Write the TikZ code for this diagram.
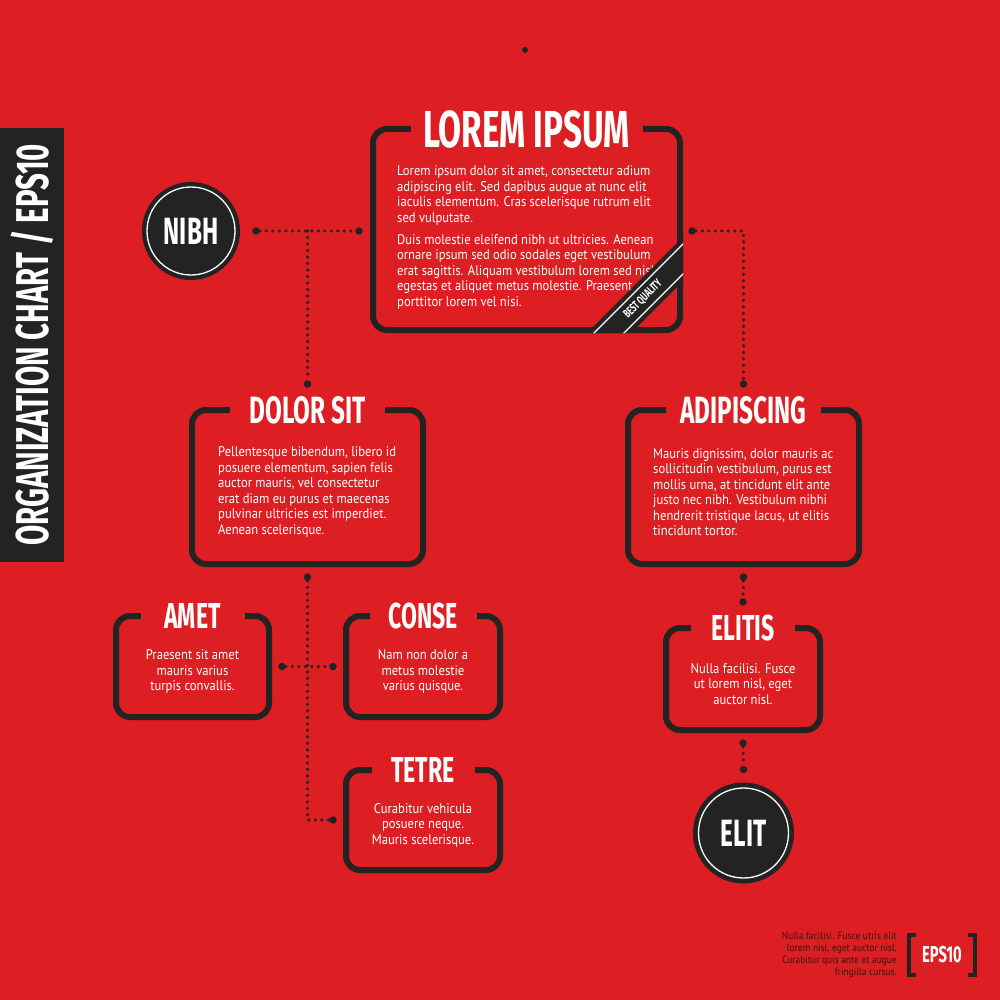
\documentclass[tikz,border=0pt]{standalone}
\usepackage{fontspec}
\setmainfont[FakeStretch=0.9]{PT Sans}
\newfontfamily\headfont[FakeStretch=0.64]{Fira Sans}
\usetikzlibrary{positioning, calc}

\definecolor{chartred}{RGB}{221,30,34}
\definecolor{chartdark}{RGB}{35,35,35}
\definecolor{notetext}{RGB}{70,14,14}

\tikzset{
  box/.style={draw=chartdark, line width=6pt, rounded corners=14pt, inner sep=0pt, outer sep=0pt},
  boxtitle/.style={fill=chartred, text=white, inner sep=0pt, minimum height=16pt,
    font=\headfont\bfseries\fontsize{36}{36}\selectfont},
  boxtext/.style={text=white, inner sep=0pt, font=\fontsize{14}{15.5}\selectfont},
  badge/.style={circle, fill=chartdark, minimum size=98pt, inner sep=0pt, outer sep=0pt, text=white,
    font=\headfont\bfseries\fontsize{38}{38}\selectfont},
  ring/.style={draw=white, line width=1.3pt},
  enddot/.style={circle, fill=chartdark, minimum size=7.5pt, inner sep=0pt},
  link/.style={draw=chartdark, line width=3.5pt, line cap=round, dash pattern=on 0pt off 6.5pt},
  bracket/.style={draw=chartdark, line width=3.5pt}
}

\begin{document}
\begin{tikzpicture}[x=1pt, y=-1pt]
\useasboundingbox (0,0) rectangle (1000,1000);
\fill[chartred] (0,0) rectangle (1000,1000);

% side label
\node[fill=chartdark, text=white, minimum width=434pt, minimum height=64pt, inner sep=0pt, rotate=90,
  font=\headfont\bfseries\fontsize{46}{46}\selectfont] (side) at (32,345) {ORGANIZATION CHART / EPS10};

% top box
\node[enddot, minimum size=6pt] (topdot) at (525,50) {};
\node[box, minimum width=307pt, minimum height=201pt] (main) at (526.5,229.5) {};
\node[boxtext, anchor=west, align=left] (maintext) at ($(main.west)+(24,8)$)
  {Lorem ipsum dolor sit amet, consectetur adium\\
   adipiscing elit. Sed dapibus augue at nunc elit\\
   iaculis elementum. Cras scelerisque rutrum elit\\
   sed vulputate.\\[6.5pt]
   Duis molestie eleifend nibh ut ultricies. Aenean\\
   ornare ipsum sed odio sodales eget vestibulum\\
   erat sagittis. Aliquam vestibulum lorem sed nisl\\
   egestas et aliquet metus molestie. Praesent\\
   porttitor lorem vel nisi.};
\begin{scope}
  \clip[rounded corners=17pt] ($(main.south west)+(-3,3)$) rectangle ($(main.north east)+(3,-3)$);
  \fill[chartdark] (702,218) -- (572,348) -- (614,350) -- (702,262) -- cycle;
  \draw[white, line width=1.2pt] (702,225) -- (572,355);
  \draw[white, line width=1.2pt] (702,255) -- (600,357);
\end{scope}
\node[text=white, rotate=45, inner sep=0pt, font=\headfont\bfseries\fontsize{12}{12}\selectfont] (best) at (643,299) {BEST QUALITY};
\node[boxtitle, minimum width=232pt, font=\headfont\bfseries\fontsize{52}{52}\selectfont] (maintitle) at (main.north) {LOREM IPSUM};

% nibh
\node[badge] (nibh) at (191,231) {NIBH};
\draw[ring] (nibh.center) circle (44pt);

% second level
\node[box, minimum width=231pt, minimum height=154pt] (dolor) at (307.5,487) {};
\node[boxtitle, minimum width=155pt, font=\headfont\bfseries\fontsize{38}{38}\selectfont] at (dolor.north) {DOLOR SIT};
\node[boxtext, anchor=west, align=left] at ($(dolor.west)+(26,5)$)
  {Pellentesque bibendum, libero id\\
   posuere elementum, sapien felis\\
   auctor mauris, vel consectetur\\
   erat diam eu purus et maecenas\\
   pulvinar ultricies est imperdiet.\\
   Aenean scelerisque.};

\node[box, minimum width=231pt, minimum height=154pt] (adip) at (743.5,487) {};
\node[boxtitle, minimum width=155pt, font=\headfont\bfseries\fontsize{38}{38}\selectfont] at (adip.north) {ADIPISCING};
\node[boxtext, anchor=west, align=left] at ($(adip.west)+(25,5)$)
  {Mauris dignissim, dolor mauris ac\\
   sollicitudin vestibulum, purus est\\
   mollis urna, at tincidunt elit ante\\
   justo nec nibh. Vestibulum nibhi\\
   hendrerit tristique lacus, ut elitis\\
   tincidunt tortor.};

% third level
\node[box, minimum width=153pt, minimum height=101pt] (amet) at (192.5,666.5) {};
\node[boxtitle, minimum width=104pt] at (amet.north) {AMET};
\node[boxtext, align=center] at ($(amet.center)+(0,5)$)
  {Praesent sit amet\\ mauris varius\\ turpis convallis.};

\node[box, minimum width=154pt, minimum height=101pt] (conse) at (423,666.5) {};
\node[boxtitle, minimum width=107pt] at (conse.north) {CONSE};
\node[boxtext, align=center] at ($(conse.center)+(0,5)$)
  {Nam non dolor a\\ metus molestie\\ varius quisque.};

\node[box, minimum width=154pt, minimum height=100pt] (tetre) at (423,820) {};
\node[boxtitle, minimum width=103pt] at (tetre.north) {TETRE};
\node[boxtext, align=center] at ($(tetre.center)+(0,5)$)
  {Curabitur vehicula\\ posuere neque.\\ Mauris scelerisque.};

\node[box, minimum width=154pt, minimum height=102pt] (elitis) at (743,679) {};
\node[boxtitle, minimum width=104pt] at (elitis.north) {ELITIS};
\node[boxtext, align=center] at ($(elitis.center)+(0,5)$)
  {Nulla facilisi. Fusce\\ ut lorem nisl, eget\\ auctor nisl.};

\node[badge, minimum size=101pt] (elit) at (743.5,833) {ELIT};
\draw[ring] (elit.center) circle (45pt);

% connectors
\node[enddot] (nibhr) at ($(nibh.east)+(16,0)$) {};
\node[enddot] (mainl) at ($(nibhr -| main.west)+(-14,0)$) {};
\node[enddot] (dolort) at ($(dolor.north)+(0,-26)$) {};
\draw[link] (nibhr) -- (mainl);
\draw[link] (dolort |- nibhr) -- (dolort);

\node[enddot] (mainr) at ($(nibhr -| main.east)+(12,0)$) {};
\node[enddot] (adipt) at ($(adip.north)+(0,-26)$) {};
\draw[link] (mainr) -- (adipt |- mainr) -- (adipt);

\node[enddot] (dolorb) at ($(dolor.south)+(0,13)$) {};
\node[enddot] (tetrel) at ($(tetre.west)+(-13,0)$) {};
\draw[link] (dolorb) -- (dolorb |- tetrel) -- (tetrel);

\node[enddot] (ametr) at ($(amet.east)+(13,0)$) {};
\node[enddot] (consel) at ($(conse.west)+(-13,0)$) {};
\draw[link] (ametr) -- (consel);

\node[enddot] (adipb) at ($(adip.south)+(0,13)$) {};
\node[enddot] (elitist) at ($(elitis.north)+(0,-26)$) {};
\draw[link] (adipb) -- (elitist);
\node[enddot] (elitisb) at ($(elitis.south)+(0,13)$) {};
\node[enddot] (elitt) at ($(elit.north)+(0,-13)$) {};
\draw[link] (elitisb) -- (elitt);

% footer
\node[text=notetext, anchor=east, align=right, inner sep=0pt, font=\fontsize{10.5}{12}\selectfont] (note) at (897,955)
  {Nulla facilisi. Fusce utris elit\\ lorem nisl, eget auctor nisl.\\ Curabitur quis ante et augue\\ fringilla cursus.};
\node[minimum width=66pt, minimum height=40pt, inner sep=0pt, text=white,
  font=\headfont\bfseries\fontsize{23}{23}\selectfont] (eps) at (942,955) {EPS10};
\draw[bracket] ($(eps.north west)+(7,0)$) -- (eps.north west) -- (eps.south west) -- ++(7,0);
\draw[bracket] ($(eps.north east)+(-7,0)$) -- (eps.north east) -- (eps.south east) -- ++(-7,0);
\end{tikzpicture}
\end{document}
